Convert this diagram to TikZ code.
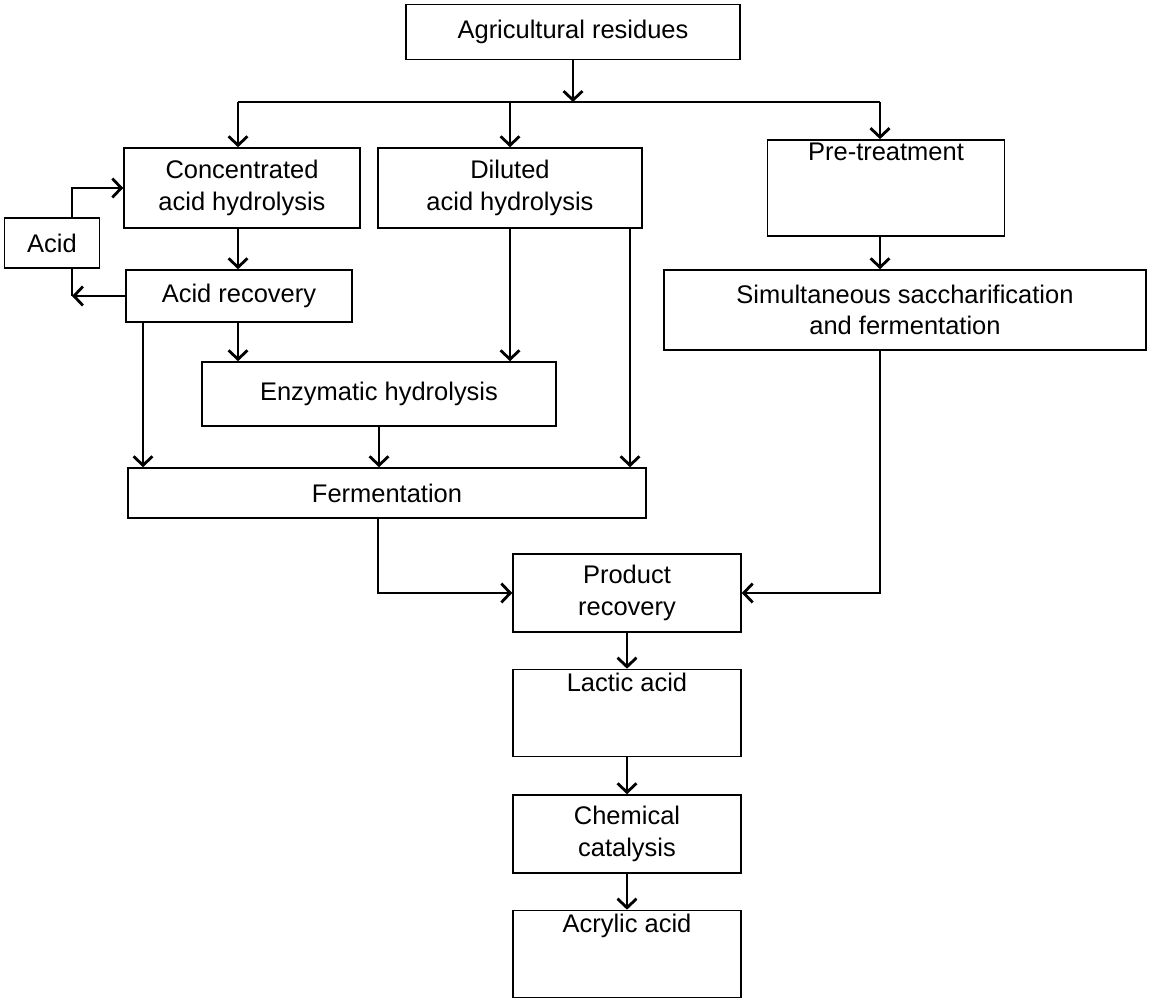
\documentclass[tikz,border=0pt]{standalone}
\usepackage{fontspec}
\setmainfont{Liberation Sans}
\usetikzlibrary{positioning,arrows.meta}

\tikzset{
  box/.style={draw,line width=0.9pt,align=center,inner sep=2pt,font=\fontsize{14.5}{18}\selectfont},
  flow/.style={->,line width=1.6pt}
}

\begin{document}
\begin{tikzpicture}[x=0.02cm,y=-0.02cm,>={Straight Barb[length=1.8mm,width=3.8mm]}]
\useasboundingbox (0,0) rectangle (1150,1001);

\node[box,minimum width=6.68cm,minimum height=1.1cm] (agri) at (573,32) {Agricultural residues};
\node[box,minimum width=4.72cm,minimum height=1.6cm] (conc) at (242,188) {Concentrated\\acid hydrolysis};
\node[box,minimum width=5.28cm,minimum height=1.6cm] (dil) at (510,188) {Diluted\\acid hydrolysis};
\node[box,minimum width=4.74cm,minimum height=1.6cm] (pre) at (886,188) {Pre-treatment\\[0.8cm]};
\node[box,minimum width=1.9cm,minimum height=1.0cm] (acid) at (52,243) {Acid};
\node[box,minimum width=4.52cm,minimum height=1.04cm] (rec) at (239,296) {Acid recovery};
\node[box,minimum width=9.64cm,minimum height=1.6cm] (ssf) at (905,310) {Simultaneous saccharification\\and fermentation};
\node[box,minimum width=7.08cm,minimum height=1.28cm] (enz) at (379,394) {Enzymatic hydrolysis};
\node[box,minimum width=10.36cm,minimum height=1.0cm] (ferm) at (387,493) {Fermentation};
\node[box,minimum width=4.56cm,minimum height=1.56cm] (prod) at (627,593) {Product\\recovery};
\node[box,minimum width=4.56cm,minimum height=1.58cm] (lac) at (627,713) {Lactic acid\\[0.6cm]};
\node[box,minimum width=4.56cm,minimum height=1.56cm] (cat) at (627,834) {Chemical\\catalysis};
\node[box,minimum width=4.56cm,minimum height=1.56cm] (acr) at (627,954) {Acrylic acid\\[0.6cm]};

% distribution bus
\coordinate (bus) at (573,102);
\draw[flow] (agri) -- (bus);
\draw[line width=1.6pt] (238,102) -- (880,102);
\draw[flow] (bus -| 238,0) -- (conc.north -| 238,0);
\draw[flow] (bus -| dil) -- (dil.north);
\draw[flow] (bus -| 880,0) -- (pre.north -| 880,0);

% acid loop
\draw[flow] (acid.north -| 72,0) |- (conc.west);
\draw[flow] (rec.west) -- (rec.west -| 72,0);
\draw[line width=1.6pt] (rec.west -| 72,0) -- (acid.south -| 72,0);

% left branch
\draw[flow] (conc.south -| 238,0) -- (rec.north -| 238,0);
\draw[flow] (rec.south -| 238,0) -- (enz.north -| 238,0);
\draw[flow] (rec.south -| 143,0) -- (ferm.north -| 143,0);
\draw[flow] (dil.south) -- (enz.north -| dil);
\draw[flow] (dil.south -| 630,0) -- (ferm.north -| 630,0);
\draw[flow] (enz) -- (ferm.north -| enz);

% right branch
\draw[flow] (pre.south -| 880,0) -- (ssf.north -| 880,0);
\draw[flow] (ssf.south -| 880,0) |- (prod.east);
\draw[flow] (ferm.south -| 378,0) |- (prod.west);

% product chain
\draw[flow] (prod) -- (lac);
\draw[flow] (lac) -- (cat);
\draw[flow] (cat) -- (acr);
\end{tikzpicture}
\end{document}
